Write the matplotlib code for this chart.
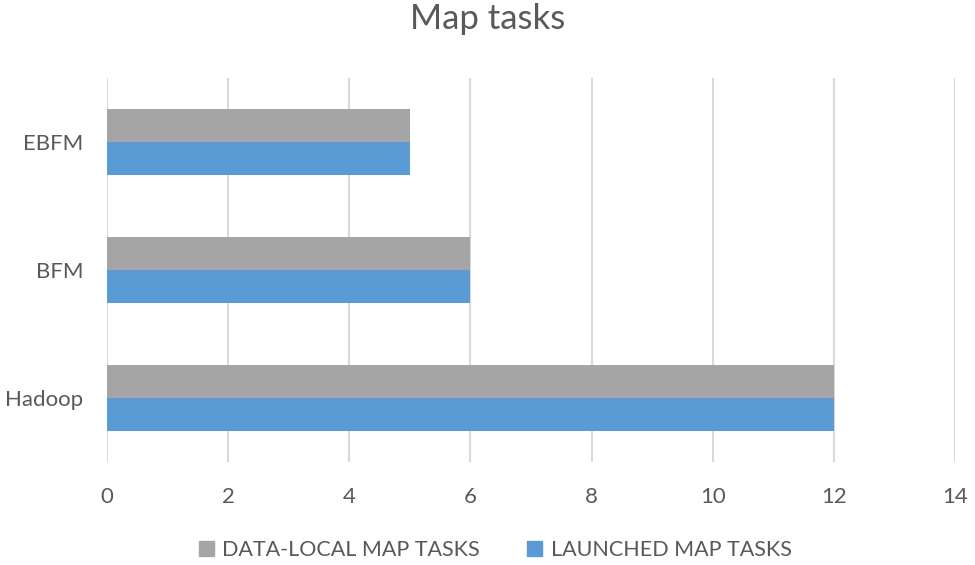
import matplotlib.pyplot as plt
import numpy as np
from matplotlib.patches import Patch

categories = ['Hadoop', 'BFM', 'EBFM']
data_local = [12, 6, 5]
launched = [12, 6, 5]
series_names = ['DATA-LOCAL MAP TASKS', 'LAUNCHED MAP TASKS']

gray = '#A5A5A5'
blue = '#5B9BD5'
text_color = '#595959'
grid_color = '#D9D9D9'

plt.rcParams['font.family'] = ['Lato', 'DejaVu Sans']

fig = plt.figure(figsize=(9.75, 5.65), dpi=100)
ax = fig.add_axes([0.1097, 0.1823, 0.8698, 0.6797])

y = np.arange(len(categories))
h = 0.26
ax.barh(y + h / 2, data_local, height=h, color=gray, zorder=3)
ax.barh(y - h / 2, launched, height=h, color=blue, zorder=3)

ax.set_xlim(0, 14)
ax.set_ylim(-0.5, 2.5)
ax.set_xticks(range(0, 15, 2))
ax.set_yticks(y)
ax.set_yticklabels(categories)
ax.tick_params(length=0, labelsize=16, colors=text_color, pad=17)
ax.tick_params(axis='x', pad=18)
ax.grid(axis='x', color=grid_color, linewidth=1.5, zorder=0)
for s in ax.spines.values():
    s.set_visible(False)

fig.suptitle('Map tasks', fontsize=25, color=text_color, y=0.995)

handles = [Patch(color=gray), Patch(color=blue)]
fig.legend(handles, series_names, loc='center', bbox_to_anchor=(0.508, 0.027),
           ncol=2, frameon=False, fontsize=15.5, labelcolor=text_color,
           handlelength=0.7, handleheight=0.7, handletextpad=0.4, columnspacing=2.2)

fig.savefig('out.png', dpi=100)
